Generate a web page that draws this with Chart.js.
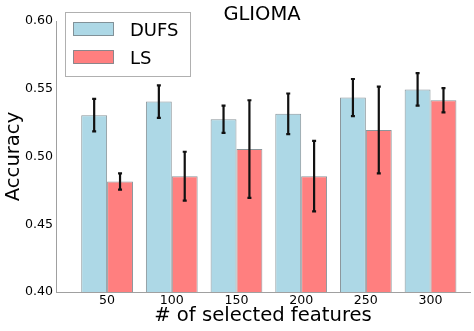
<!DOCTYPE html>
<html>
<head>
<meta charset="utf-8">
<script src="https://cdn.jsdelivr.net/npm/chart.js@4/dist/chart.umd.min.js"></script>
<style>
  html, body { margin: 0; padding: 0; background: #fff; }
  canvas { display: block; }
</style>
</head>
<body>
<canvas id="chart" width="474" height="331"></canvas>
<script>
// Number of selected features (x-axis categories)
const categories = ['50', '100', '150', '200', '250', '300'];

// Mean accuracy and standard deviation per method
const dufsMean = [0.5305, 0.5405, 0.5275, 0.5315, 0.5435, 0.5495];
const dufsStd  = [0.012, 0.012, 0.010, 0.015, 0.0137, 0.012];
const lsMean   = [0.4815, 0.4855, 0.5055, 0.4855, 0.5195, 0.5415];
const lsStd    = [0.006, 0.018, 0.036, 0.026, 0.032, 0.009];

// Y-axis tick values
const yTicks = [0.40, 0.45, 0.50, 0.55, 0.60];

const FONT = '"DejaVu Sans", sans-serif';
const DUFS_COLOR = '#add8e6';
const LS_COLOR = '#ff7f7f';
const EDGE = 'rgba(100,115,122,0.75)';

const toPoints = arr => arr.map((v, i) => ({ x: i, y: v }));

// Draws a vertical error bar with small caps over every bar
const errorBars = {
  id: 'errorBars',
  afterDatasetsDraw(chart) {
    const { ctx } = chart;
    const yScale = chart.scales.y;
    chart.data.datasets.forEach((ds, di) => {
      const meta = chart.getDatasetMeta(di);
      meta.data.forEach((bar, i) => {
        const m = ds.data[i].y, e = ds.errors[i];
        const yTop = yScale.getPixelForValue(m + e);
        const yBot = yScale.getPixelForValue(m - e);
        ctx.save();
        ctx.strokeStyle = '#111';
        ctx.lineWidth = 2.2;
        ctx.beginPath();
        ctx.moveTo(bar.x, yTop); ctx.lineTo(bar.x, yBot);
        ctx.moveTo(bar.x - 2, yTop); ctx.lineTo(bar.x + 2, yTop);
        ctx.moveTo(bar.x - 2, yBot); ctx.lineTo(bar.x + 2, yBot);
        ctx.stroke();
        ctx.restore();
      });
    });
  }
};

// Title and boxed legend in the upper left of the plot
const decorations = {
  id: 'decorations',
  afterDraw(chart) {
    const { ctx } = chart;
    ctx.save();
    ctx.fillStyle = '#000';
    ctx.font = '19.5px ' + FONT;
    ctx.textAlign = 'center';
    ctx.textBaseline = 'alphabetic';
    ctx.fillText('GLIOMA', 262, 20);

    // legend frame
    ctx.fillStyle = '#fff';
    ctx.fillRect(65.5, 12.5, 125, 64);
    ctx.strokeStyle = '#b0b0b0';
    ctx.lineWidth = 1;
    ctx.strokeRect(65.5, 12.5, 125, 64);

    const entries = [
      { label: chart.data.datasets[0].label, color: DUFS_COLOR, y: 22.5 },
      { label: chart.data.datasets[1].label, color: LS_COLOR, y: 50.5 }
    ];
    ctx.font = '18px ' + FONT;
    ctx.textAlign = 'left';
    entries.forEach(en => {
      ctx.fillStyle = en.color;
      ctx.fillRect(73.5, en.y, 40, 13);
      ctx.strokeStyle = EDGE;
      ctx.strokeRect(73.5, en.y, 40, 13);
      ctx.fillStyle = '#000';
      ctx.fillText(en.label, 130, en.y + 13.3);
    });
    ctx.restore();
  }
};

new Chart(document.getElementById('chart'), {
  type: 'bar',
  data: {
    datasets: [
      {
        label: 'DUFS',
        data: toPoints(dufsMean),
        errors: dufsStd,
        backgroundColor: DUFS_COLOR,
        borderColor: EDGE,
        borderWidth: 1
      },
      {
        label: 'LS',
        data: toPoints(lsMean),
        errors: lsStd,
        backgroundColor: LS_COLOR,
        borderColor: EDGE,
        borderWidth: 1
      }
    ]
  },
  options: {
    responsive: false,
    animation: false,
    events: [],
    categoryPercentage: 0.8,
    barPercentage: 1.0,
    layout: { padding: { top: 21, right: 4, left: 0, bottom: 0 } },
    plugins: {
      legend: { display: false },
      title: { display: false },
      tooltip: { enabled: false }
    },
    scales: {
      x: {
        type: 'linear',
        min: -0.79,
        max: 5.61,
        offset: false,
        grid: { display: false, drawTicks: false },
        border: { display: true, color: '#a0a0a0', width: 1 },
        afterBuildTicks: s => { s.ticks = categories.map((_, i) => ({ value: i })); },
        afterFit: s => { s.height = 39; },
        ticks: {
          padding: 1.5,
          color: '#000',
          font: { family: FONT, size: 12.6 },
          maxRotation: 0,
          autoSkip: false,
          callback: v => categories[v]
        },
        title: {
          display: true,
          text: '# of selected features',
          color: '#000',
          font: { family: FONT, size: 19.6 },
          padding: { top: 0, bottom: 3 }
        }
      },
      y: {
        min: 0.40,
        max: 0.60,
        grid: { display: false, drawTicks: false },
        border: { display: true, color: '#a0a0a0', width: 1 },
        afterBuildTicks: s => { s.ticks = yTicks.map(v => ({ value: v })); },
        afterFit: s => { s.width = 56; },
        ticks: {
          padding: 3,
          color: '#000',
          font: { family: FONT, size: 12.6 },
          callback: v => v.toFixed(2)
        },
        title: {
          display: true,
          text: 'Accuracy',
          color: '#000',
          font: { family: FONT, size: 19.6 },
          padding: { top: 2, bottom: 0 }
        }
      }
    }
  },
  plugins: [errorBars, decorations]
});
</script>
</body>
</html>
